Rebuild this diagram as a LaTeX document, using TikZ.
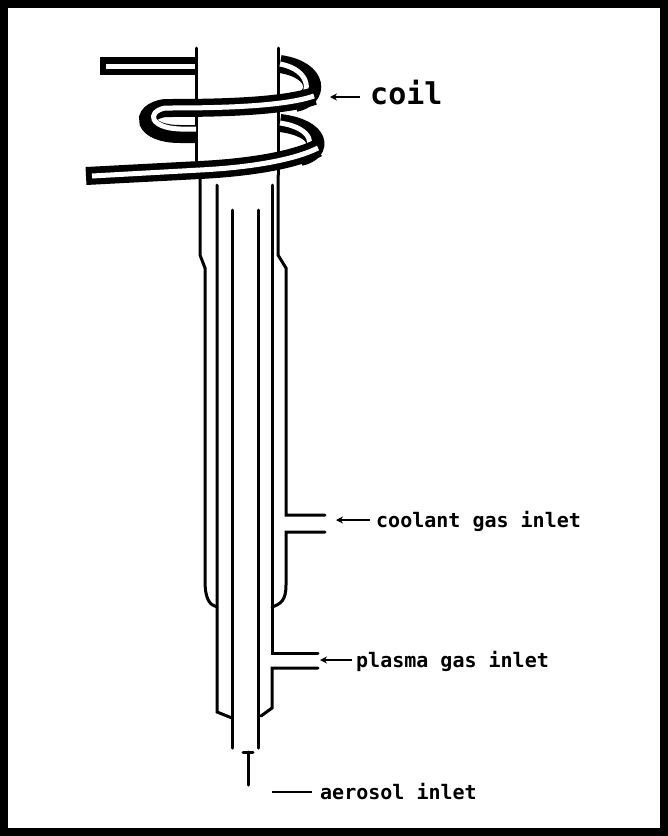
\documentclass[tikz,border=0pt]{standalone}
\usepackage{fontspec}
\usetikzlibrary{arrows.meta}
\setmainfont{DejaVu Sans Mono}
\begin{document}
\begin{tikzpicture}[x=1pt,y=-1pt,
  tube/.style={line width=3pt,line cap=round},
  ribbon/.style={line width=18pt,line cap=butt},
  ribbonin/.style={white,line width=5pt,line cap=butt},
  lbl/.style={anchor=west,inner sep=0pt,font=\bfseries\fontsize{20}{22}\selectfont},
  arr/.style={line width=2.5pt,-{Stealth[length=7pt,width=7pt]}}]
\useasboundingbox (0,0) rectangle (668,836);
\draw[line width=8pt] (4,4) rectangle (664,832);
% outer tube
\draw[tube] (196,48) -- (196,175);
\draw[tube] (278,48) -- (278,175);
\draw[tube] (200,175) -- (200,255) -- (205,268) -- (205,580) .. controls (205,600) and (210,605) .. (217,607);
\draw[tube] (278,175) -- (278,255) -- (286,268) -- (286,515) -- (325,515);
\draw[tube] (325,532) -- (286,532) -- (286,585) .. controls (286,600) and (281,604) .. (272,607);
% middle tube
\draw[tube] (217,185) -- (217,712) -- (232,718);
\draw[tube] (272,185) -- (272,653) -- (318,653);
\draw[tube] (318,668) -- (272,668) -- (272,708) -- (261,716);
% inner tube
\draw[tube] (232,210) -- (232,748);
\draw[tube] (258,210) -- (258,748);
% aerosol T
\draw[tube] (248,752) -- (248,785);
\draw[tube] (243,752) -- (253,752);
% coil
\draw[ribbon] (100,66) -- (195,66);
\draw[ribbonin] (106,66) -- (195,66);
\draw[ribbon] (280,64) .. controls (320,70) and (320,98) .. (295,103);
\draw[ribbonin] (280,64) .. controls (312,70) and (312,96) .. (295,101);
\draw[ribbon] (314,96) .. controls (280,108) and (200,108) .. (165,108) .. controls (138,112) and (143,134) .. (180,134) -- (196,134);
\draw[ribbonin] (314,96) .. controls (280,108) and (200,108) .. (165,108) .. controls (146,112) and (150,128) .. (180,129) -- (196,129);
\draw[ribbon] (280,123) .. controls (322,128) and (324,152) .. (300,157);
\draw[ribbonin] (280,123) .. controls (314,128) and (316,148) .. (300,154);
\draw[ribbon] (318,148) .. controls (290,162) and (240,168) .. (200,170) -- (86,176);
\draw[ribbonin] (318,148) .. controls (290,162) and (240,168) .. (200,170) -- (92,176);
% labels
\coordinate (ca) at (360,97);
\draw[arr] (ca) -- (330,97);
\node[lbl,font=\rmfamily\bfseries\fontsize{30}{32}\selectfont] (coil) at (370,93) {coil};
\coordinate (cga) at (370,520);
\draw[arr] (cga) -- (336,520);
\node[lbl] (cgl) at (376,521) {coolant gas inlet};
\coordinate (pga) at (352,660);
\draw[arr] (pga) -- (320,660);
\node[lbl] (pgl) at (356,661) {plasma gas inlet};
\coordinate (aa) at (272,792);
\draw[line width=2.5pt] (aa) -- (312,792);
\node[lbl] (al) at (320,792) {aerosol inlet};
\end{tikzpicture}
\end{document}
